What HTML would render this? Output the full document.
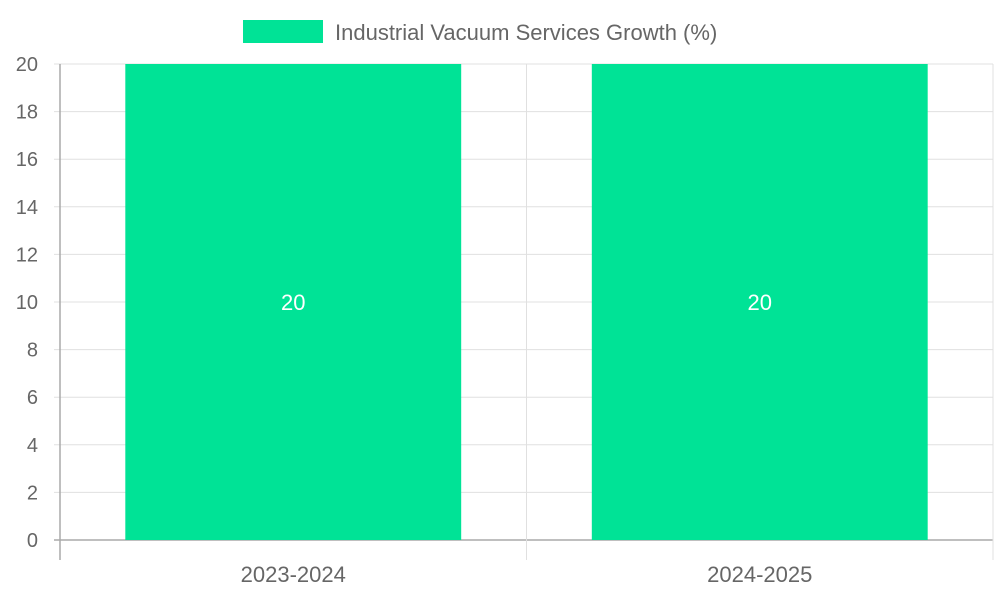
<!DOCTYPE html>
<html><head><meta charset="utf-8"><style>
html,body{margin:0;padding:0;background:#fff;width:1000px;height:600px;overflow:hidden}
svg text{font-family:"Liberation Sans",sans-serif}
</style></head><body>
<svg id="chart" width="1000" height="600" xmlns="http://www.w3.org/2000/svg">
<g id="legend">
<rect x="243" y="20" width="80" height="23" fill="#00e396"/>
<text x="335" y="40" font-size="22" fill="#666">Industrial Vacuum Services Growth (%)</text>
</g>
<g id="grid"></g><g id="bars"></g><g id="axes"></g>
</svg>
<script>
const categories = ["2023-2024", "2024-2025"];
const values = [20, 20];
const yTicks = [0, 2, 4, 6, 8, 10, 12, 14, 16, 18, 20];
const NS = "http://www.w3.org/2000/svg";
const L = 60, R = 993, T = 64, B = 540, yMax = 20;
const y = v => B - (v / yMax) * (B - T);
const band = (R - L) / categories.length;
const x = i => L + band * i;
function mk(tag, attrs, parent) { const e = document.createElementNS(NS, tag); for (const k in attrs) e.setAttribute(k, attrs[k]); parent.appendChild(e); return e; }
const grid = document.getElementById('grid'), bars = document.getElementById('bars'), axes = document.getElementById('axes');
yTicks.forEach(t => {
  const g = mk('line', {x1: L - 6, x2: R, y1: y(t), y2: y(t), stroke: t === 0 ? '#aaa' : '#e0e0e0', 'stroke-width': t === 0 ? 1.5 : 1}, grid);
  
  
  const tx = mk('text', {x: 38, y: y(t) + 7, 'text-anchor': 'end', 'font-size': 20, fill: '#666'}, axes);
  tx.textContent = t;
  
  
});
for (let i = 0; i <= categories.length; i++) {
  const g = mk('line', {x1: x(i), x2: x(i), y1: T, y2: B + 20, stroke: i === 0 ? '#aaa' : '#e0e0e0', 'stroke-width': i === 0 ? 1.5 : 1}, grid);
  
  
}
categories.forEach((c, i) => {
  const bw = band * 0.72, cx = x(i) + band / 2;
  const r = mk('rect', {x: cx - bw / 2, y: y(values[i]), width: bw, height: B - y(values[i]), fill: '#00e396'}, bars);
  
  
  const v = mk('text', {x: cx, y: (y(values[i]) + B) / 2 + 8, 'text-anchor': 'middle', 'font-size': 22, fill: '#fff'}, bars);
  v.textContent = values[i];
  
  
  const l = mk('text', {x: cx, y: 582, 'text-anchor': 'middle', 'font-size': 22, fill: '#666'}, axes);
  l.textContent = c;
  
  
});
</script>
</body></html>
